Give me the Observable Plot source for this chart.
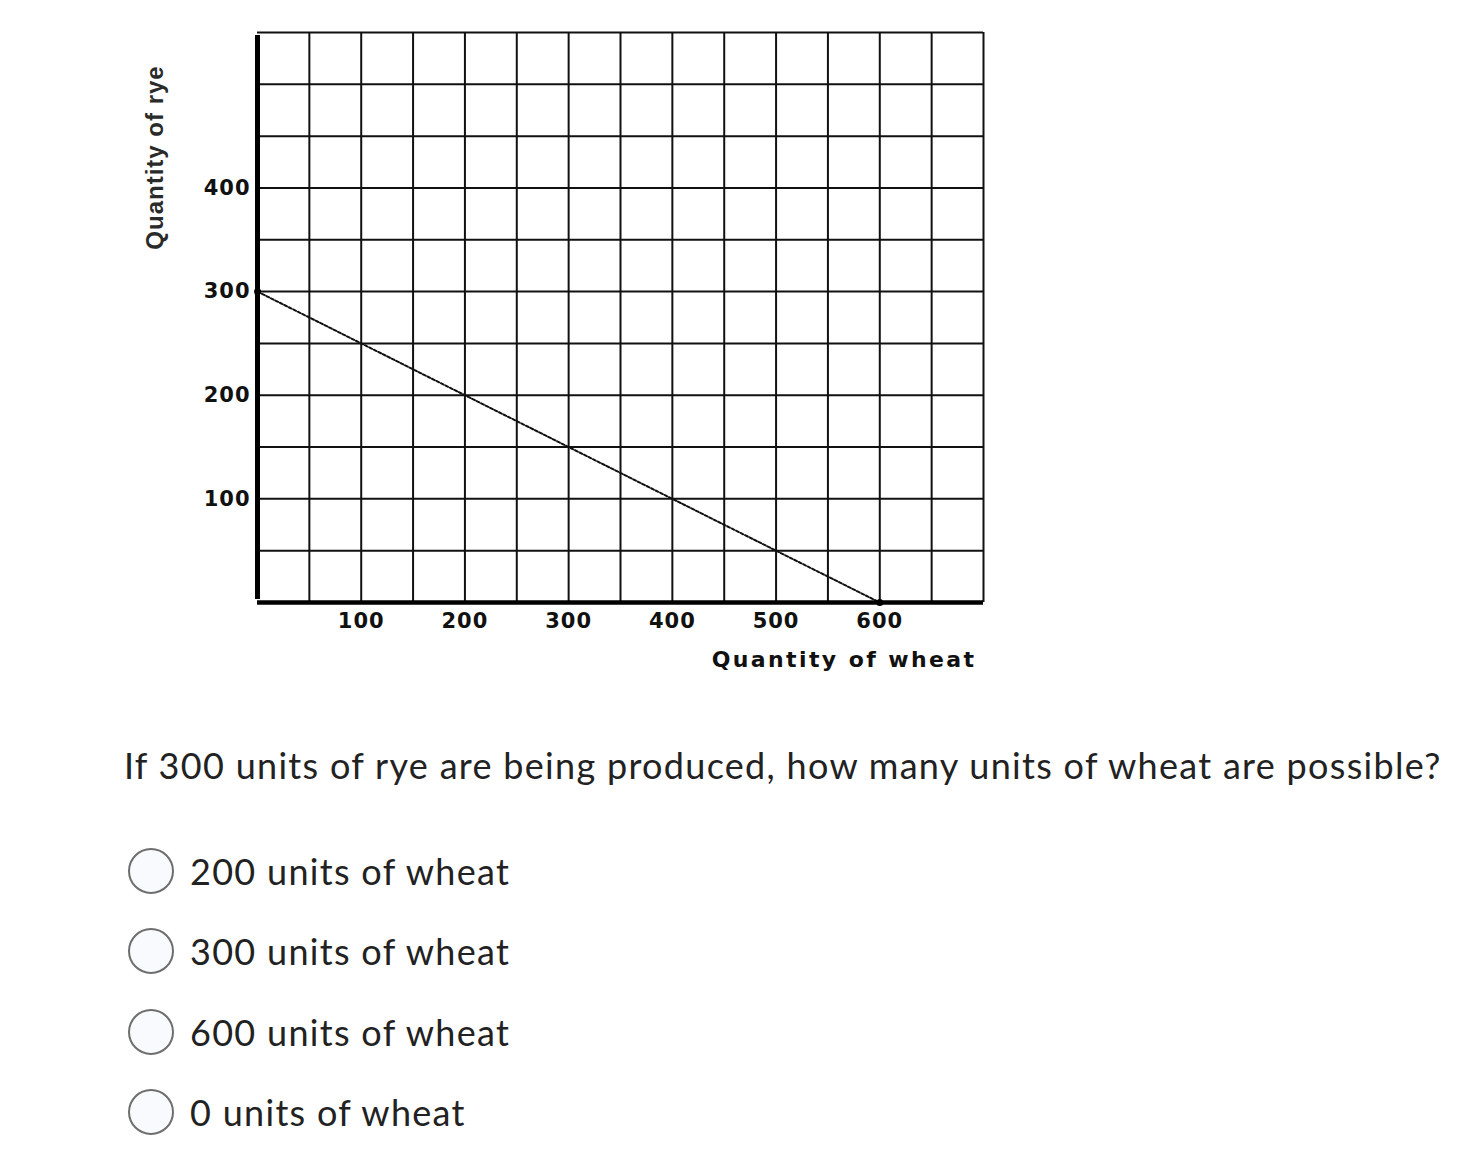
<!DOCTYPE html>
<html>
<head>
<meta charset="utf-8">
<script src="https://cdn.jsdelivr.net/npm/d3@7"></script>
<script src="https://cdn.jsdelivr.net/npm/@observablehq/plot@0.6"></script>
<style>
  html, body { margin: 0; padding: 0; background: #fff; }
  #page { position: relative; width: 1470px; height: 1154px; overflow: hidden; }
  #chart { position: absolute; left: 0; top: 0; }
  .q { position: absolute; left: 124px; top: 743px; font-family: Lato, sans-serif; font-size: 36px; letter-spacing: 1.3px; color: #222; white-space: nowrap; }
  .opt { position: absolute; left: 128px; height: 46px; font-family: Lato, sans-serif; font-size: 36px; letter-spacing: 1.3px; color: #222; white-space: nowrap; display: flex; align-items: center; }
  .opt .radio { width: 42px; height: 42px; border: 2px solid #6e6e6e; border-radius: 50%; background: #f9fafd; box-sizing: content-box; margin-right: 16px; }
</style>
</head>
<body>
<div id="page">
  <div id="chart"></div>
  <div class="q" id="question"></div>
  <div id="options"></div>
</div>
<script>
// ---- data ----
const wheat = [0, 600];           // quantity of wheat (x)
const rye = [300, 0];             // quantity of rye (y)
const xTicks = [100, 200, 300, 400, 500, 600];
const yTicks = [100, 200, 300, 400];
const gridXValues = [50, 100, 150, 200, 250, 300, 350, 400, 450, 500, 550, 600, 650, 700];
const gridYValues = [50, 100, 150, 200, 250, 300, 350, 400, 450, 500, 550];
const xDomain = [0, 700];
const yDomain = [0, 550];
const xLabel = "Quantity of wheat";
const yLabel = "Quantity of rye";
const questionText = "If 300 units of rye are being produced, how many units of wheat are possible?";
const optionTexts = ["200 units of wheat", "300 units of wheat", "600 units of wheat", "0 units of wheat"];

const ppf = wheat.map((w, i) => ({wheat: w, rye: rye[i]}));

const chart = Plot.plot({
  width: 1000,
  height: 690,
  marginLeft: 257,
  marginRight: 17,
  marginTop: 32,
  marginBottom: 88,
  style: {fontFamily: "'DejaVu Sans', sans-serif", fontSize: "21px", fontWeight: "bold", letterSpacing: "1px", color: "#111", background: "transparent"},
  x: {domain: xDomain, ticks: xTicks, tickSize: 0, tickPadding: 11, label: null},
  y: {domain: yDomain, ticks: yTicks, tickSize: 0, tickPadding: 7, label: null},
  marks: [
    Plot.ruleX(gridXValues, {stroke: "#111", strokeWidth: 2}),
    Plot.ruleY(gridYValues, {stroke: "#111", strokeWidth: 2}),
    Plot.line(ppf, {x: "wheat", y: "rye", stroke: "#111", strokeWidth: 2, strokeDasharray: "3,2"}),
    Plot.dot(ppf, {x: "wheat", y: "rye", r: 3.5, fill: "#000", stroke: "none"}),
    Plot.ruleX([0], {stroke: "#000", strokeWidth: 5, y1: yDomain[0], y2: yDomain[1], insetTop: -3, insetBottom: -3}),
    Plot.ruleY([0], {stroke: "#000", strokeWidth: 4.5, x1: xDomain[0], x2: xDomain[1]}),
    Plot.text([xLabel], {frameAnchor: "bottom-right", dx: -7, dy: 57, textAnchor: "end", lineAnchor: "middle", fontSize: 22, fontWeight: "bold", fill: "#111"}),
    Plot.text([yLabel], {frameAnchor: "top-left", dx: -102, dy: 125, rotate: -90, textAnchor: "middle", lineAnchor: "middle", fontSize: 24, fontWeight: "bold", fill: "#2a2a2a", fontFamily: "'Liberation Sans', Arial, sans-serif"})
  ]
});
// widen the letter spacing of the x-axis title to match the reference's lettering
d3.select(chart).selectAll("text").filter(function() { return this.textContent === xLabel; }).style("letter-spacing", "2.4px");
document.getElementById("chart").appendChild(chart);

document.getElementById("question").textContent = questionText;
const optTops = [848, 928, 1009, 1089];
const optsEl = document.getElementById("options");
optionTexts.forEach((t, i) => {
  const d = document.createElement("div");
  d.className = "opt";
  d.style.top = optTops[i] + "px";
  const r = document.createElement("span");
  r.className = "radio";
  const s = document.createElement("span");
  s.textContent = t;
  d.appendChild(r); d.appendChild(s);
  optsEl.appendChild(d);
});
</script>
</body>
</html>
